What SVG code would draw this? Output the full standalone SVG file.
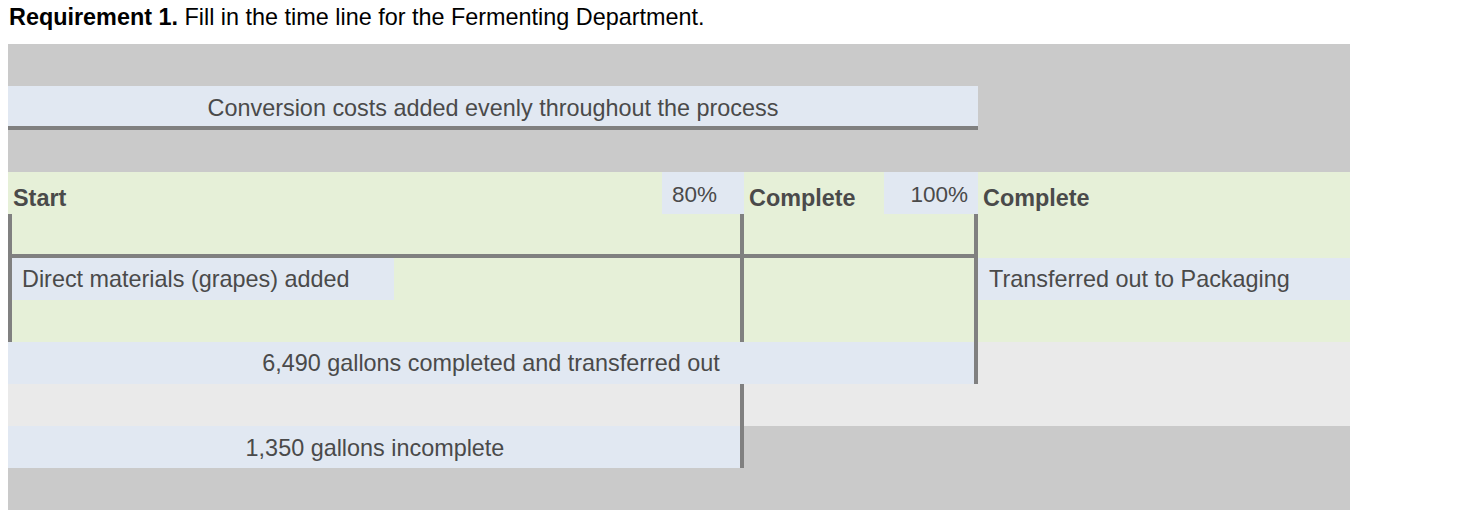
<svg xmlns="http://www.w3.org/2000/svg" width="1468" height="528" viewBox="0 0 1468 528">
<style>
.bg{fill:#CACACA}
.blue{fill:#E1E8F2}
.green{fill:#E6F0D8}
.lgray{fill:#EAEAEA}
.t{font-family:"Liberation Sans",Arial,Helvetica,sans-serif;font-size:23.4px;fill:#4A4A4A}
.p{font-size:22.5px}
.b{font-weight:bold}
.ln{stroke:#808080;stroke-width:4;fill:none}
.title{font-family:"Liberation Sans",Arial,Helvetica,sans-serif;font-size:23.4px;fill:#000}
</style>
<rect width="1468" height="528" fill="#FFFFFF"/>
<text class="title" x="9" y="25"><tspan font-weight="bold">Requirement 1.</tspan> Fill in the time line for the Fermenting Department.</text>
<g id="background">
<rect class="bg" x="8" y="44" width="1342" height="466"/>
<rect class="green" x="8" y="172" width="1342" height="170"/>
<rect class="lgray" x="8" y="342" width="1342" height="84"/>
</g>
<g id="conversion">
<rect class="blue" x="8" y="86" width="970" height="42"/>
<text class="t" x="493" y="116" text-anchor="middle">Conversion costs added evenly throughout the process</text>
</g>
<g id="start">
<text class="t b" x="13" y="206">Start</text>
</g>
<g id="pct80">
<rect class="blue" x="662" y="172" width="82" height="42"/>
<text class="t p" x="717" y="202" text-anchor="end">80%</text>
<text class="t b" x="749" y="206">Complete</text>
</g>
<g id="pct100">
<rect class="blue" x="884" y="172" width="94" height="42"/>
<text class="t p" x="968" y="202" text-anchor="end">100%</text>
<text class="t b" x="983" y="206">Complete</text>
</g>
<g id="direct-materials">
<rect class="blue" x="8" y="258" width="386" height="42"/>
<text class="t" x="22" y="287">Direct materials (grapes) added</text>
</g>
<g id="transferred-out">
<rect class="blue" x="978" y="258" width="372" height="42"/>
<text class="t" x="989" y="287">Transferred out to Packaging</text>
</g>
<g id="completed">
<rect class="blue" x="8" y="342" width="966" height="42"/>
<text class="t" x="491" y="371" text-anchor="middle">6,490 gallons completed and transferred out</text>
</g>
<g id="incomplete">
<rect class="blue" x="8" y="426" width="732" height="42"/>
<text class="t" x="375" y="456" text-anchor="middle">1,350 gallons incomplete</text>
</g>
<g id="connectors">
<line class="ln" x1="8" y1="128" x2="978" y2="128"/>
<line class="ln" x1="8" y1="256" x2="978" y2="256"/>
<line class="ln" x1="10" y1="214" x2="10" y2="342"/>
<line class="ln" x1="742" y1="214" x2="742" y2="342"/>
<line class="ln" x1="742" y1="384" x2="742" y2="468"/>
<line class="ln" x1="976" y1="214" x2="976" y2="384"/>
</g>
</svg>
